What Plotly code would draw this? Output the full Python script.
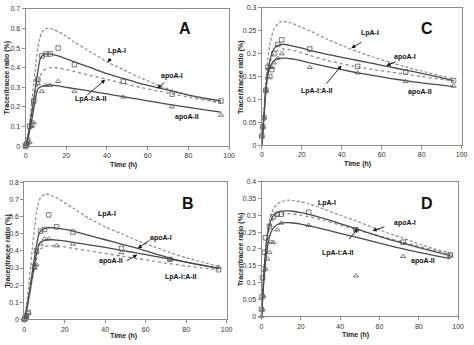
import plotly.graph_objects as go

# ---------------- data ----------------
T_FIT = [0, 1, 2, 3, 4, 5, 6, 7, 8, 10, 12, 14, 16, 20, 24, 32, 40, 48, 56, 64, 72, 80, 88, 96]

# Panel A
A_fit_apoAI = [0, 0.04, 0.1, 0.17, 0.24, 0.31, 0.38, 0.44, 0.46, 0.47, 0.47, 0.465, 0.46, 0.445, 0.43, 0.40, 0.37, 0.345, 0.32, 0.30, 0.28, 0.26, 0.245, 0.23]
A_fit_apoAII = [0, 0.03, 0.08, 0.13, 0.19, 0.25, 0.29, 0.30, 0.305, 0.31, 0.312, 0.31, 0.307, 0.30, 0.293, 0.28, 0.266, 0.252, 0.238, 0.224, 0.21, 0.197, 0.185, 0.173]
A_fit_LpAI = [0, 0.05, 0.13, 0.22, 0.32, 0.42, 0.5, 0.55, 0.58, 0.6, 0.6, 0.593, 0.585, 0.56, 0.53, 0.48, 0.43, 0.39, 0.35, 0.315, 0.285, 0.26, 0.24, 0.22]
A_fit_LpAIAII = [0, 0.04, 0.09, 0.15, 0.21, 0.27, 0.32, 0.355, 0.375, 0.395, 0.40, 0.40, 0.398, 0.39, 0.38, 0.36, 0.34, 0.32, 0.30, 0.283, 0.267, 0.25, 0.235, 0.22]
A_obs_apoAI_t = [0, 0.25, 0.5, 1, 2, 3, 4, 6, 8, 10, 12, 16, 24, 48, 72, 96]
A_obs_apoAI_v = [0, 0.005, 0.01, 0.03, 0.1, 0.11, 0.23, 0.34, 0.46, 0.47, 0.47, 0.5, 0.415, 0.33, 0.265, 0.23]
A_obs_apoAII_t = [0, 0.5, 1, 2, 3, 4, 6, 8, 10, 12, 16, 24, 48, 72, 96]
A_obs_apoAII_v = [0, 0.005, 0.015, 0.02, 0.1, 0.12, 0.32, 0.28, 0.31, 0.31, 0.33, 0.28, 0.25, 0.2, 0.158]

# Panel C
C_fit_apoAI = [0, 0.06, 0.12, 0.16, 0.185, 0.2, 0.21, 0.215, 0.218, 0.22, 0.22, 0.218, 0.216, 0.212, 0.207, 0.199, 0.192, 0.185, 0.178, 0.171, 0.164, 0.157, 0.149, 0.141]
C_fit_apoAII = [0, 0.06, 0.12, 0.155, 0.17, 0.178, 0.184, 0.187, 0.189, 0.19, 0.19, 0.189, 0.188, 0.184, 0.18, 0.172, 0.165, 0.158, 0.152, 0.146, 0.141, 0.136, 0.132, 0.128]
C_fit_LpAI = [0, 0.07, 0.14, 0.19, 0.22, 0.24, 0.253, 0.26, 0.265, 0.27, 0.27, 0.268, 0.265, 0.257, 0.25, 0.233, 0.218, 0.204, 0.192, 0.181, 0.171, 0.162, 0.153, 0.145]
C_fit_LpAIAII = [0, 0.06, 0.12, 0.16, 0.18, 0.192, 0.2, 0.204, 0.207, 0.21, 0.21, 0.209, 0.207, 0.202, 0.196, 0.186, 0.178, 0.171, 0.165, 0.16, 0.155, 0.15, 0.145, 0.14]
C_obs_apoAI_t = [0, 0.5, 1, 2, 3, 4, 5, 6, 8, 10, 24, 48, 72, 96]
C_obs_apoAI_v = [0.02, 0.04, 0.06, 0.12, 0.17, 0.15, 0.165, 0.2, 0.22, 0.23, 0.21, 0.172, 0.16, 0.141]
C_obs_apoAII_t = [0, 0.5, 1, 2, 3, 4, 5, 6, 8, 10, 24, 48, 72, 96]
C_obs_apoAII_v = [0.02, 0.04, 0.06, 0.12, 0.15, 0.17, 0.17, 0.18, 0.19, 0.2, 0.17, 0.158, 0.139, 0.129]

# Panel B
B_fit_LpAI = [0, 0.08, 0.18, 0.3, 0.42, 0.53, 0.62, 0.68, 0.71, 0.73, 0.73, 0.72, 0.71, 0.68, 0.65, 0.59, 0.54, 0.50, 0.46, 0.425, 0.39, 0.36, 0.335, 0.31]
B_fit_apoAI = [0, 0.05, 0.12, 0.2, 0.28, 0.36, 0.43, 0.49, 0.515, 0.53, 0.535, 0.535, 0.533, 0.525, 0.515, 0.49, 0.465, 0.44, 0.415, 0.385, 0.358, 0.335, 0.315, 0.298]
B_fit_apoAII = [0, 0.05, 0.11, 0.18, 0.25, 0.32, 0.38, 0.43, 0.45, 0.462, 0.465, 0.465, 0.463, 0.458, 0.45, 0.435, 0.42, 0.403, 0.387, 0.37, 0.352, 0.335, 0.317, 0.30]
B_fit_LpAIAII = [0, 0.04, 0.1, 0.17, 0.24, 0.3, 0.35, 0.39, 0.41, 0.425, 0.43, 0.43, 0.428, 0.423, 0.415, 0.40, 0.385, 0.37, 0.355, 0.34, 0.325, 0.312, 0.3, 0.29]
B_obs_apoAI_t = [0, 0.25, 0.5, 1, 2, 5, 6, 8, 10, 12, 16, 24, 48, 72, 96]
B_obs_apoAI_v = [0, 0.005, 0.01, 0.02, 0.04, 0.31, 0.4, 0.515, 0.525, 0.61, 0.54, 0.51, 0.415, 0.35, 0.29]
B_obs_apoAII_t = [0, 0.5, 1, 2, 5, 6, 8, 10, 12, 16, 24, 48, 72, 96]
B_obs_apoAII_v = [0, 0.01, 0.02, 0.04, 0.3, 0.32, 0.44, 0.47, 0.47, 0.43, 0.44, 0.39, 0.35, 0.305]

# Panel D
D_fit_LpAI = [0, 0.12, 0.2, 0.25, 0.285, 0.305, 0.318, 0.327, 0.333, 0.34, 0.344, 0.345, 0.344, 0.34, 0.334, 0.318, 0.3, 0.283, 0.265, 0.248, 0.232, 0.215, 0.2, 0.187]
D_fit_apoAI = [0, 0.11, 0.19, 0.24, 0.27, 0.288, 0.298, 0.304, 0.308, 0.312, 0.313, 0.313, 0.312, 0.308, 0.303, 0.29, 0.275, 0.26, 0.245, 0.23, 0.217, 0.204, 0.192, 0.18]
D_fit_LpAIAII = [0, 0.1, 0.18, 0.23, 0.26, 0.277, 0.287, 0.293, 0.298, 0.303, 0.305, 0.305, 0.304, 0.3, 0.296, 0.284, 0.271, 0.258, 0.245, 0.232, 0.22, 0.208, 0.196, 0.185]
D_fit_apoAII = [0, 0.09, 0.16, 0.205, 0.235, 0.252, 0.262, 0.268, 0.272, 0.277, 0.278, 0.278, 0.277, 0.274, 0.269, 0.258, 0.246, 0.235, 0.223, 0.211, 0.2, 0.19, 0.18, 0.171]
D_obs_apoAI_t = [0, 0.25, 0.5, 1, 1.5, 2, 4, 6, 8, 10, 24, 48, 72, 96]
D_obs_apoAI_v = [0.02, 0.058, 0.114, 0.14, 0.19, 0.233, 0.267, 0.296, 0.303, 0.303, 0.309, 0.257, 0.22, 0.182]
D_obs_apoAII_t = [0, 0.5, 1, 2, 3, 4, 5, 6, 8, 10, 24, 48, 72, 96]
D_obs_apoAII_v = [0, 0.02, 0.06, 0.14, 0.17, 0.19, 0.22, 0.22, 0.257, 0.277, 0.27, 0.12, 0.178, 0.18]

X_TICKS = [0, 20, 40, 60, 80, 100]

# ---------------- styling ----------------
FONT = "Liberation Sans"
SOLID = dict(color="#4a4a4a", width=1.3)
DASH = dict(color="#8a8a8a", width=1.2, dash="3px,2px")
DOT = dict(color="#8a8a8a", width=1.3, dash="dot")
MK_COLOR = "#555555"

W, H = 474, 345

def px_dom(x0, x1):
    return [x0 / W, x1 / W]

def py_dom(ytop, ybot):
    return [1 - ybot / H, 1 - ytop / H]

panels = {
    "A": dict(xa="x", ya="y", xd=px_dom(24, 231), yd=py_dom(5, 145), yr=[0, 0.7], dt=0.1,
              fits=[(A_fit_LpAI, DASH), (A_fit_LpAIAII, DOT), (A_fit_apoAI, SOLID), (A_fit_apoAII, SOLID)],
              obs=[(A_obs_apoAI_t, A_obs_apoAI_v, "square-open"), (A_obs_apoAII_t, A_obs_apoAII_v, "triangle-up-open")]),
    "C": dict(xa="x2", ya="y2", xd=px_dom(264.3, 467.5), yd=py_dom(4, 144), yr=[0, 0.3], dt=0.05,
              fits=[(C_fit_LpAI, DASH), (C_fit_LpAIAII, DOT), (C_fit_apoAI, SOLID), (C_fit_apoAII, SOLID)],
              obs=[(C_obs_apoAI_t, C_obs_apoAI_v, "square-open"), (C_obs_apoAII_t, C_obs_apoAII_v, "triangle-up-open")]),
    "B": dict(xa="x3", ya="y3", xd=px_dom(22.7, 228.5), yd=py_dom(182, 322), yr=[0, 0.8], dt=0.1,
              fits=[(B_fit_LpAI, DASH), (B_fit_LpAIAII, DOT), (B_fit_apoAI, SOLID), (B_fit_apoAII, SOLID)],
              obs=[(B_obs_apoAI_t, B_obs_apoAI_v, "square-open"), (B_obs_apoAII_t, B_obs_apoAII_v, "triangle-up-open")]),
    "D": dict(xa="x4", ya="y4", xd=px_dom(264, 464), yd=py_dom(181.3, 318.7), yr=[0, 0.4], dt=0.05,
              fits=[(D_fit_LpAI, DASH), (D_fit_LpAIAII, DOT), (D_fit_apoAI, SOLID), (D_fit_apoAII, SOLID)],
              obs=[(D_obs_apoAI_t, D_obs_apoAI_v, "square-open"), (D_obs_apoAII_t, D_obs_apoAII_v, "triangle-up-open")]),
}

fig = go.Figure()
layout = dict(width=W, height=H, margin=dict(l=0, r=0, t=0, b=0),
              paper_bgcolor="white", plot_bgcolor="white", showlegend=False,
              font=dict(family=FONT, size=7, color="#222"))

for key, p in panels.items():
    for vals, ln in p["fits"]:
        fig.add_trace(go.Scatter(x=T_FIT, y=vals, mode="lines", line=dict(shape="spline", smoothing=0.6, **ln),
                                 xaxis=p["xa"], yaxis=p["ya"], hoverinfo="skip", cliponaxis=False))
    for t, v, sym in p["obs"]:
        fig.add_trace(go.Scatter(x=t, y=v, mode="markers",
                                 marker=dict(symbol=sym, size=4.5, color=MK_COLOR, line=dict(width=0.8, color=MK_COLOR)),
                                 xaxis=p["xa"], yaxis=p["ya"], cliponaxis=False))
    xname = "xaxis" + p["xa"][1:]
    yname = "yaxis" + p["ya"][1:]
    layout[xname] = dict(domain=p["xd"], anchor=p["ya"], range=[0, 100], tickvals=X_TICKS,
                         showline=True, mirror=True, linecolor="#8c8c8c", linewidth=1,
                         ticks="outside", ticklen=3, tickcolor="#8c8c8c", showgrid=False, zeroline=False,
                         tickfont=dict(size=7, color="#333"), fixedrange=True)
    layout[yname] = dict(domain=p["yd"], anchor=p["xa"], range=p["yr"], dtick=p["dt"], tick0=0,
                         showline=True, mirror=True, linecolor="#8c8c8c", linewidth=1,
                         ticks="outside", ticklen=3, tickcolor="#8c8c8c", showgrid=False, zeroline=False,
                         tickfont=dict(size=7, color="#333"), fixedrange=True)

fig.update_layout(**layout)

ann = []

def label(xref, yref, x, y, text, size=7):
    ann.append(dict(xref=xref, yref=yref, x=x, y=y, text="<b>%s</b>" % text, showarrow=False,
                    font=dict(family=FONT, size=size, color="#111"), xanchor="center", yanchor="middle"))

def arrow(xref, yref, tail, head):
    ann.append(dict(xref=xref, yref=yref, axref=xref, ayref=yref, x=head[0], y=head[1], ax=tail[0], ay=tail[1],
                    text="", showarrow=True, arrowhead=2, arrowsize=0.9, arrowwidth=0.9, arrowcolor="#111"))

# Panel A
label("x", "y", 78.3, 0.60, "A", 16)
label("x", "y", 44.8, 0.487, "LpA-I")
arrow("x", "y", (42.6, 0.452), (40.2, 0.4285))
label("x", "y", 72.1, 0.358, "apoA-I")
arrow("x", "y", (68.9, 0.3285), (64.6, 0.295))
label("x", "y", 31.9, 0.24, "LpA-I:A-II")
arrow("x", "y", (29.5, 0.2535), (39.1, 0.3385))
label("x", "y", 79.2, 0.15, "apoA-II")

# Panel C
label("x2", "y2", 82.6, 0.255, "C", 16)
label("x2", "y2", 53.9, 0.246, "LpA-I")
arrow("x2", "y2", (50.6, 0.227), (44.8, 0.212))
label("x2", "y2", 71.9, 0.192, "apoA-I")
arrow("x2", "y2", (67.8, 0.1836), (62.4, 0.174))
label("x2", "y2", 27.6, 0.119, "LpA-I:A-II")
arrow("x2", "y2", (31.7, 0.131), (39.9, 0.174))
label("x2", "y2", 79.0, 0.117, "apoA-II")

# Panel B
label("x3", "y3", 81.1, 0.676, "B", 16)
label("x3", "y3", 41.0, 0.613, "LpA-I")
label("x3", "y3", 67.8, 0.476, "apoA-I")
arrow("x3", "y3", (62.6, 0.467), (56.1, 0.415))
label("x3", "y3", 42.6, 0.339, "apoA-II")
arrow("x3", "y3", (49.9, 0.337), (55.8, 0.377))
label("x3", "y3", 77.2, 0.246, "LpA-I:A-II")

# Panel D
label("x4", "y4", 84.0, 0.335, "D", 16)
label("x4", "y4", 33.5, 0.335, "LpA-I")
label("x4", "y4", 73.2, 0.277, "apoA-I")
arrow("x4", "y4", (63.2, 0.267), (56.5, 0.254))
label("x4", "y4", 39.0, 0.187, "LpA-I:A-II")
arrow("x4", "y4", (44.0, 0.225), (49.0, 0.261))
label("x4", "y4", 82.3, 0.165, "apoA-II")

# axis titles (paper coordinates)
def ptitle(xpx, ypx, text, angle=0):
    ann.append(dict(xref="paper", yref="paper", x=xpx / W, y=1 - ypx / H, text="<b>%s</b>" % text,
                    showarrow=False, textangle=angle, font=dict(family=FONT, size=7, color="#222"),
                    xanchor="center", yanchor="middle"))

ptitle(123.5, 164, "Time (h)")
ptitle(362, 163.5, "Time (h)")
ptitle(123.5, 338.5, "Time (h)")
ptitle(360, 338, "Time (h)")
ptitle(6, 75, "Tracer/tracee ratio (%)", -90)
ptitle(243.5, 74, "Tracer/tracee ratio (%)", -90)
ptitle(6, 252, "Tracer/tracee ratio (%)", -90)
ptitle(243.5, 250, "Tracer/tracee ratio (%)", -90)

fig.update_layout(annotations=ann)
fig.write_html("out.html")
